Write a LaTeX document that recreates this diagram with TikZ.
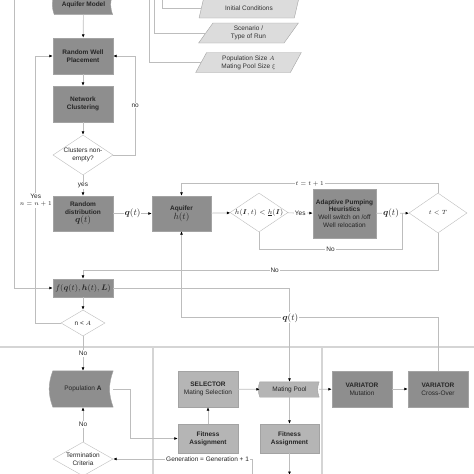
\documentclass[tikz,border=0pt]{standalone}
\usepackage{amsmath}
\usepackage{fontspec}
\setmainfont{Liberation Sans}
\usetikzlibrary{shapes.geometric,arrows.meta,backgrounds}

\definecolor{dkbox}{HTML}{8E8E8E}
\definecolor{ltbox}{HTML}{B5B5B5}
\definecolor{inbox}{HTML}{DCDCDC}
\definecolor{boxline}{HTML}{A3A3A3}
\definecolor{wirecol}{HTML}{BDBDBD}
\definecolor{sepcol}{HTML}{D5D5D5}

\newcommand\diagfont{\fontsize{6.5}{7.8}\selectfont}
\newcommand\mfont{\fontsize{9}{10}\selectfont}

\begin{document}
\begin{tikzpicture}[
    x=1pt, y=-1pt,
    font=\diagfont,
    box/.style={draw=boxline, rectangle, minimum width=60pt, minimum height=36pt, inner sep=1pt, align=center, fill=dkbox, text=black!85},
    lbox/.style={box, fill=ltbox},
    store/.style={rectangle, minimum width=60pt, minimum height=36pt, inner sep=1pt, align=center, text=black!85},
    dec/.style={draw=wirecol, fill=white, diamond, minimum width=60pt, minimum height=40pt, inner sep=0pt},
    inp/.style={draw=boxline, fill=inbox, trapezium, trapezium left angle=63, trapezium right angle=117, trapezium stretches=true, minimum width=100pt, minimum height=20pt, inner sep=0pt, align=center, text=black!80},
    wire/.style={draw=wirecol, line width=0.7pt},
    arrow/.style={wire, -{Latex[length=3.5pt,width=3pt,color=black]}},
    tag/.style={fill=white, inner sep=1pt, text=black!85, align=center},
    sepline/.style={draw=sepcol, line width=1.8pt}
]
\useasboundingbox (0,0) rectangle (474,474);

    % stage separators
    \draw[sepline] (0,347) -- (474,347);
    \draw[sepline] (153,347) -- (153,480);
    \draw[sepline] (322,347) -- (322,480);

    % model set-up
    \node[store, minimum width=58pt, minimum height=20pt] (aqmodel) at (83.5,4.5) {\textbf{Aquifer Model}};
    \node[inp] (initc) at (249,8) {Initial Conditions};
    \node[inp] (scen) at (248.5,33) {Scenario /\\Type of Run};
    \node[inp, minimum width=106pt] (popsize) at (248.5,62.5) {Population Size $A$\\Mating Pool Size $\xi$};

    \coordinate (ina) at (162,-3);
    \coordinate (inb) at (154,-3);
    \coordinate (inc) at (149,-3);
    \draw[wire] (ina) |- (initc.west);
    \draw[wire] (inb) |- (scen.west);
    \draw[wire] (inc) |- (popsize.west);

    % well placement loop
    \node[box] (rwp) at (83,56) {\textbf{Random Well}\\\textbf{Placement}};
    \node[box] (netclu) at (83,104) {\textbf{Network}\\\textbf{Clustering}};
    \node[dec, label={[align=center, text=black!85]center:Clusters non-\\empty?}] (clusdia) at (83,155) {};
    \node[box, minimum height=35pt] (rdist) at (83,213.5) {\textbf{Random}\\\textbf{distribution}\\{\mfont$\boldsymbol{q}(t)$}};

    \draw[arrow] (aqmodel) -- (rwp);
    \draw[arrow] (rwp) -- (netclu);
    \draw[arrow] (netclu) -- (clusdia);
    \draw[arrow] (clusdia) -- node[tag] {yes} (rdist);
    \draw[arrow] (clusdia.east) -- ++(22,0) |- node[tag, pos=0.25] {no} (rwp.east);

    % simulation loop
    \node[box, minimum width=59pt, minimum height=35pt] (aquifer) at (181.5,213.5) {\textbf{Aquifer}\\{\mfont$h(t)$}};
    \node[dec, minimum width=58pt, minimum height=39pt, label={[text=black!85]center:{\fontsize{7.5}{8}\selectfont$h(\boldsymbol{I},t)<\underline{h}(\boldsymbol{I})$}}] (hdia) at (259,212.5) {};
    \node[box, minimum width=63pt, minimum height=49pt] (adapt) at (344.5,213.5) {\textbf{Adaptive Pumping}\\\textbf{Heuristics}\\Well switch on /off\\Well relocation};
    \node[dec, minimum width=58pt, minimum height=40pt, label={[text=black!85]center:$t<T$}] (tdia) at (438,213) {};
    \coordinate (qjoin) at (402,213);

    \draw[arrow] (rdist) -- node[tag] {\mfont$\boldsymbol{q}(t)$} (aquifer);
    \draw[arrow] (aquifer) -- (hdia);
    \draw[arrow] (hdia) -- node[tag] {Yes} (adapt);
    \draw[arrow] (adapt) -- node[tag, pos=0.45] {\mfont$\boldsymbol{q}(t)$} (tdia);
    \draw[arrow] (tdia.north) -- ++(0,-9) -| node[tag, pos=0.25] {$t=t+1$} (aquifer.north);
    \draw[wire] (hdia.south) -- ++(0,17) -| node[tag, pos=0.25] {No} (qjoin);

    % objective evaluation
    \node[box, minimum height=18pt] (fbox) at (83,288) {\fontsize{8.5}{9}\selectfont$f(\boldsymbol{q}(t),\boldsymbol{h}(t),\boldsymbol{L})$};
    \node[dec, minimum width=44pt, minimum height=26pt, label={[text=black!85]center:n < $A$}] (ndia) at (83,323) {};
    \coordinate (ltop) at (14,-3);

    \draw[arrow] (tdia.south) -- ++(0,37) -| node[tag, pos=0.23] {No} (fbox.north);
    \draw[arrow] (ltop) |- (fbox.west);
    \draw[arrow] (fbox) -- (ndia);
    \draw[arrow] (ndia.west) -- ++(-25,0) |- node[tag, pos=0.23] {Yes\\$n=n+1$} (rwp.west);

    % genetic algorithm
    \node[store] (popA) at (83,389) {Population \textbf{A}};
    \node[lbox] (selector) at (208,389) {\textbf{SELECTOR}\\Mating Selection};
    \node[lbox, minimum height=29pt] (fitL) at (208,438.5) {\textbf{Fitness}\\\textbf{Assignment}};
    \node[dec, minimum height=34pt, label={[align=center, text=black!85]center:Termination\\Criteria}] (termdia) at (83,459) {};
    \node[store, minimum width=59pt, minimum height=15pt] (matpool) at (289.5,389.5) {Mating Pool};
    \node[lbox, minimum width=59pt, minimum height=29pt] (fitR) at (289.5,438.5) {\textbf{Fitness}\\\textbf{Assignment}};
    \node[box] (mutation) at (362,389) {\textbf{VARIATOR}\\Mutation};
    \node[box] (crossover) at (438,389) {\textbf{VARIATOR}\\Cross-Over};
    \coordinate (genbot) at (252,480);
    \coordinate (fitbot) at (289.5,475);

    \begin{scope}[on background layer]
        \foreach \s/\c in {aqmodel/dkbox, popA/dkbox, matpool/ltbox}
            \draw[draw=boxline, fill=\c] (\s.north west) to[bend right=20] (\s.south west) -- (\s.south east) to[bend left=20] (\s.north east) -- cycle;
    \end{scope}

    \draw[arrow] (ndia) -- node[tag] {No} (popA);
    \draw[arrow] (popA.east) -- ++(17,0) |- (fitL.west);
    \draw[arrow] (fitL) -- (selector);
    \draw[arrow] (selector) -- (matpool);
    \draw[arrow] (fbox.east) -| (matpool.north);
    \draw[arrow] (matpool) -- (fitR);
    \draw[arrow] (matpool) -- (mutation);
    \draw[arrow] (mutation) -- (crossover);
    \draw[arrow] (fitR) -- (fitbot);
    \draw[arrow] (genbot) |- node[tag, pos=0.66] {Generation = Generation + 1} (termdia.east);
    \draw[arrow] (termdia) -- node[tag] {No} (popA);
    \draw[arrow] (crossover.north) -- ++(0,-53) -| node[tag, pos=0.288] {\mfont$\boldsymbol{q}(t)$} (aquifer.south);

\end{tikzpicture}
\end{document}
